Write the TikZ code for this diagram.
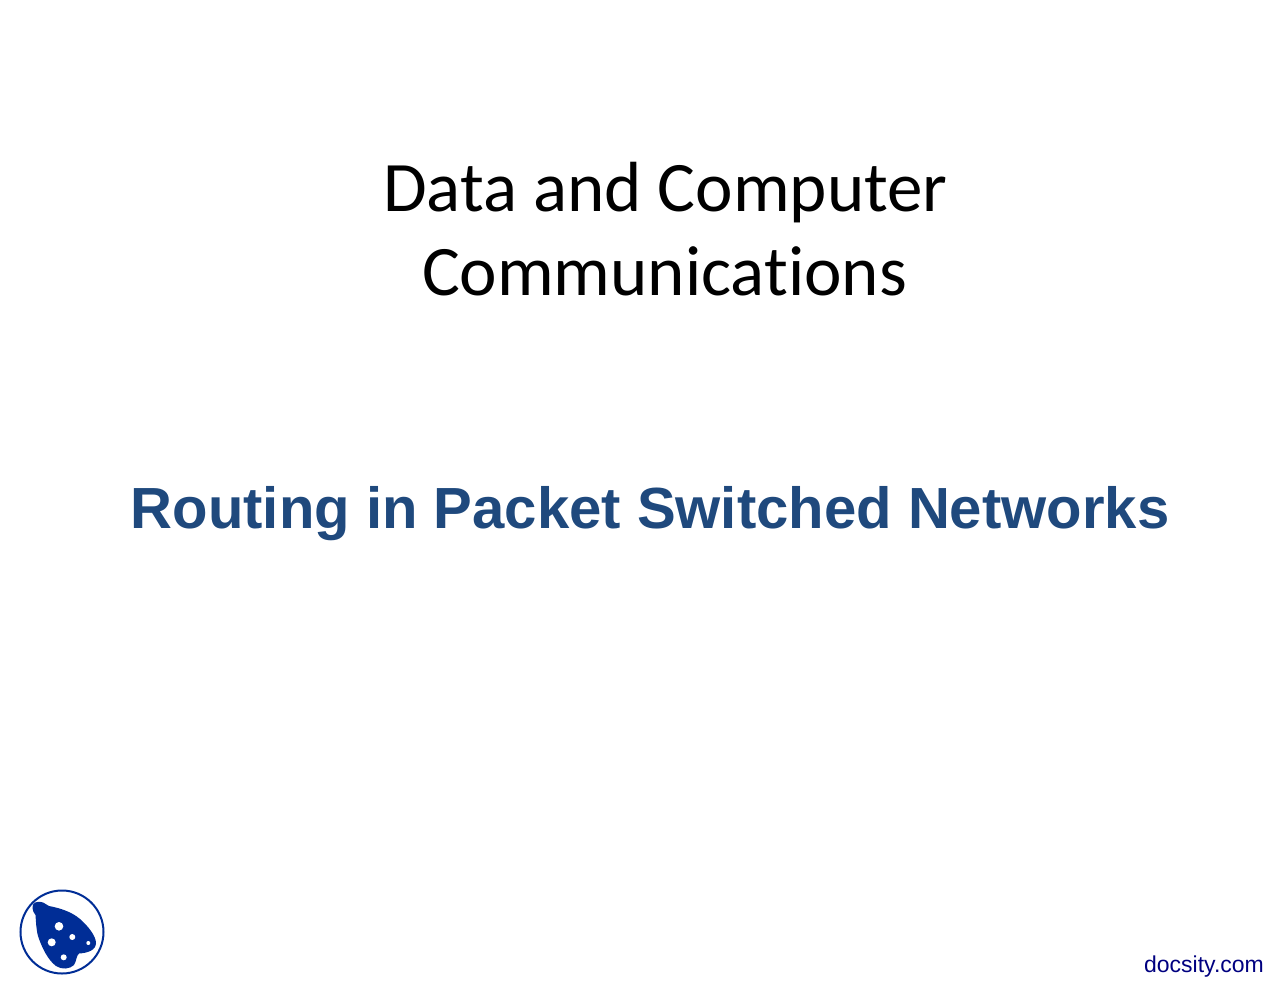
\documentclass[tikz,border=0pt]{standalone}
\usepackage{fontspec}
\setmainfont{Liberation Sans}
\newfontfamily\carl[Ligatures=NoCommon]{Carlito}
\definecolor{subblue}{RGB}{31,73,125}
\definecolor{logoblue}{RGB}{0,45,150}
\definecolor{sitenavy}{RGB}{0,0,128}
\begin{document}
\begin{tikzpicture}[x=1pt,y=-1pt]
\useasboundingbox (0,0) rectangle (1280,989);
\tikzset{titletext/.style={inner sep=0pt,font=\carl\fontsize{71}{84}\selectfont,text=black,anchor=base}}
\node[titletext] (t1) at (665.5,211) {Data and Computer};
\node[titletext] (t2) at (664.5,295) {Communications};
\node[inner sep=0pt,anchor=base,text=subblue,font=\bfseries\fontsize{58.05}{70}\selectfont] (sub) at (650,528) {Routing in Packet Switched Networks};
\node[inner sep=0pt,anchor=base,text=sitenavy,font=\fontsize{23}{28}\selectfont] (site) at (1204,972) {docsity.com};
\draw[logoblue,line width=2pt,fill=white] (62,932) circle (41.5);
\fill[logoblue] (32.5,908) .. controls (32,902) and (37,901.5) .. (41,902) .. controls (45,902.5) and (46,905) .. (49,906) .. controls (60,908) and (72,912) .. (80,919) .. controls (88,926) and (96,936) .. (96,943) .. controls (96,950) and (88,953) .. (79,953.5) .. controls (76,956) and (77,960) .. (74,965) .. controls (70,969) and (62,970) .. (56,966) .. controls (48,960) and (42,948) .. (38,936) .. controls (36,928) and (36,921) .. (35.5,915) .. controls (34,913) and (32.5,911) .. (32.5,908) -- cycle;
\foreach \p/\r in {{59,926.3}/4.3,{72.3,937}/3,{51.7,942.3}/4,{88.3,943}/2,{63.7,957.3}/3}{\fill[white] (\p) circle (\r);}
\end{tikzpicture}
\end{document}
